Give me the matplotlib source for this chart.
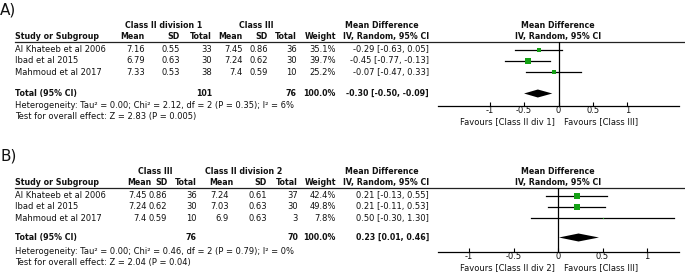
import matplotlib
matplotlib.use("Agg")
import matplotlib.pyplot as plt

plt.rcParams['font.family'] = ['DejaVu Sans']
plt.rcParams['axes.unicode_minus'] = False

# ---- data ----
studies = ["Al Khateeb et al 2006", "Ibad et al 2015", "Mahmoud et al 2017"]

# Panel A: Class II division 1 vs Class III
a_mean1 = [7.16, 6.79, 7.33]
a_sd1 = [0.55, 0.63, 0.53]
a_n1 = [33, 30, 38]
a_mean2 = [7.45, 7.24, 7.4]
a_sd2 = [0.86, 0.62, 0.59]
a_n2 = [36, 30, 10]
a_weight = [35.1, 39.7, 25.2]
a_md = [-0.29, -0.45, -0.07]
a_lo = [-0.63, -0.77, -0.47]
a_hi = [0.05, -0.13, 0.33]
a_total = [-0.30, -0.50, -0.09]
a_ntot = [101, 76]
a_het = "Heterogeneity: Tau\u00b2 = 0.00; Chi\u00b2 = 2.12, df = 2 (P = 0.35); I\u00b2 = 6%"
a_test = "Test for overall effect: Z = 2.83 (P = 0.005)"

# Panel B: Class III vs Class II division 2
b_mean1 = [7.45, 7.24, 7.4]
b_sd1 = [0.86, 0.62, 0.59]
b_n1 = [36, 30, 10]
b_mean2 = [7.24, 7.03, 6.9]
b_sd2 = [0.61, 0.63, 0.63]
b_n2 = [37, 30, 3]
b_weight = [42.4, 49.8, 7.8]
b_md = [0.21, 0.21, 0.50]
b_lo = [-0.13, -0.11, -0.30]
b_hi = [0.55, 0.53, 1.30]
b_total = [0.23, 0.01, 0.46]
b_ntot = [76, 70]
b_het = "Heterogeneity: Tau\u00b2 = 0.00; Chi\u00b2 = 0.46, df = 2 (P = 0.79); I\u00b2 = 0%"
b_test = "Test for overall effect: Z = 2.04 (P = 0.04)"

ticks = [-1, -0.5, 0, 0.5, 1]
tick_labels = ["-1", "-0.5", "0", "0.5", "1"]

W, H = 685, 273
fig = plt.figure(figsize=(W / 100, H / 100), dpi=100)
bg = fig.add_axes([0, 0, 1, 1])
bg.set_xlim(0, W)
bg.set_ylim(H, 0)
bg.axis("off")

FS = 6.0
FSB = 5.7
GREEN = "#14a014"
INK = "#111111"


def txt(x, y, s, ha="left", bold=False):
    bg.text(x, y, s, ha=ha, va="center", fontsize=FSB if bold else FS,
            fontweight="bold" if bold else "normal", color=INK)


def panel(y0, label, grp1, grp2, c1, c2, mean1, sd1, n1, mean2, sd2, n2,
          weight, md, lo, hi, total, ntot, het, test, xlim, fav1, fav2,
          colx, hdrx, tot_dy=0):
    # y positions (pixels)
    y_grp = y0 + 25.3
    y_hdr = y0 + 36.5
    y_line = y0 + 42.2
    rows = [y0 + 49.6, y0 + 60.8, y0 + 72.2]
    y_tot = y0 + 93.5 + tot_dy
    y_axis = y0 + 105.5

    bg.text(0, y0 + 10, label, ha="left", va="center", fontsize=11, color=INK)

    txt(c1, y_grp, grp1, ha="center", bold=True)
    txt(c2, y_grp, grp2, ha="center", bold=True)
    txt(382, y_grp, "Mean Difference", ha="center", bold=True)
    txt(558, y_grp, "Mean Difference", ha="center", bold=True)

    txt(15, y_hdr, "Study or Subgroup", bold=True)
    for name, x in zip(["Mean", "SD", "Total", "Mean", "SD", "Total", "Weight"], hdrx):
        txt(x, y_hdr, name, ha="right", bold=True)
    txt(343, y_hdr, "IV, Random, 95% CI", bold=True)
    txt(558, y_hdr, "IV, Random, 95% CI", ha="center", bold=True)
    bg.plot([15, 685], [y_line, y_line], color="#222222", lw=0.9)

    for i, y in enumerate(rows):
        txt(15, y, studies[i])
        vals = [str(mean1[i]), f"{sd1[i]:.2f}", str(n1[i]),
                str(mean2[i]), f"{sd2[i]:.2f}", str(n2[i]), f"{weight[i]:.1f}%"]
        for v, x in zip(vals, colx):
            txt(x, y, v, ha="right")
        txt(429, y, f"{md[i]:.2f} [{lo[i]:.2f}, {hi[i]:.2f}]", ha="right")

    txt(15, y_tot, "Total (95% CI)", bold=True)
    txt(colx[2], y_tot, str(ntot[0]), ha="right", bold=True)
    txt(colx[5], y_tot, str(ntot[1]), ha="right", bold=True)
    txt(colx[6], y_tot, "100.0%", ha="right", bold=True)
    txt(429, y_tot, f"{total[0]:.2f} [{total[1]:.2f}, {total[2]:.2f}]", ha="right", bold=True)
    txt(15, y0 + 105, het)
    txt(15, y0 + 117, test)

    # forest plot
    x0, x1 = 438, 679
    ax = fig.add_axes([x0 / W, 1 - y_axis / H, (x1 - x0) / W, (y_axis - y_line) / H])
    ax.set_xlim(*xlim)
    ax.set_ylim(y_axis, y_line)
    ax.patch.set_alpha(0)
    for s in ["top", "left", "right"]:
        ax.spines[s].set_visible(False)
    ax.spines["bottom"].set_linewidth(0.9)
    ax.set_yticks([])
    ax.set_xticks(ticks)
    ax.set_xticklabels(tick_labels)
    ax.tick_params(axis="x", direction="in", length=3, width=0.8, pad=0.5,
                   labelsize=FS, labelcolor=INK)
    ax.axvline(0, color="black", lw=0.9)
    for i, y in enumerate(rows):
        ax.plot([lo[i], hi[i]], [y, y], color="black", lw=0.9)
        ax.plot(md[i], y, marker="s", ms=max(weight[i] * 0.14 * 0.72, 0.8),
                color=GREEN, mec=GREEN, mew=0)
    ax.fill([total[1], total[0], total[2], total[0]],
            [y_tot, y_tot - 4, y_tot, y_tot + 4], color="black", lw=0)
    txt(555, y0 + 121.5, fav1, ha="right")
    txt(564, y0 + 121.5, fav2, ha="left")


panel(0, "A)", "Class II division 1", "Class III", 164, 256,
      a_mean1, a_sd1, a_n1, a_mean2, a_sd2, a_n2, a_weight, a_md, a_lo, a_hi,
      a_total, a_ntot, a_het, a_test, (-1.75, 1.75),
      "Favours [Class II div 1]", "Favours [Class III]",
      colx=[145, 180, 212, 243, 268, 297, 336],
      hdrx=[145, 180, 212, 243, 268, 297, 336])

panel(146, "B)", "Class III", "Class II division 2", 155, 244,
      b_mean1, b_sd1, b_n1, b_mean2, b_sd2, b_n2, b_weight, b_md, b_lo, b_hi,
      b_total, b_ntot, b_het, b_test, (-1.35, 1.36),
      "Favours [Class II div 2]", "Favours [Class III]",
      colx=[147, 167, 197, 229, 267, 298, 336],
      hdrx=[152, 168, 197, 234, 267, 298, 336], tot_dy=-2)

fig.savefig("out.png", dpi=100)
